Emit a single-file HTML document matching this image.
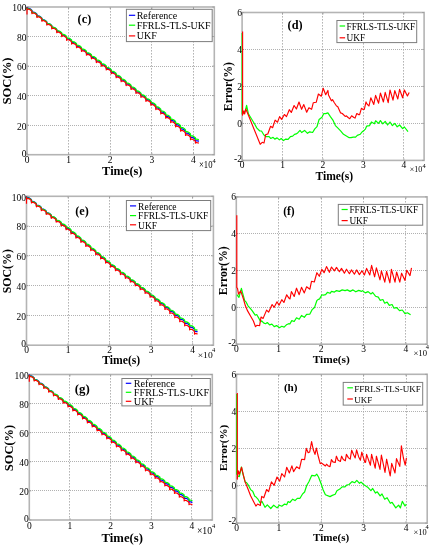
<!DOCTYPE html>
<html><head><meta charset="utf-8"><title>SOC estimation results</title>
<style>html,body{margin:0;padding:0;background:#fff;}svg{display:block;}</style>
</head><body>
<svg width="433" height="550" viewBox="0 0 433 550" font-family='"Liberation Serif", "Times New Roman", serif' fill="#000">
<rect width="433" height="550" fill="#fff"/>
<path d="M68.50 8.00V153.70M110.50 8.00V153.70M151.50 8.00V153.70M193.50 8.00V153.70" stroke="#ababab" stroke-width="0.9" stroke-dasharray="1.6 1.4" fill="none"/>
<path d="M28.00 125.50H213.30M28.00 95.50H213.30M28.00 66.50H213.30M28.00 36.50H213.30" stroke="#a8a8a8" stroke-width="0.9" stroke-dasharray="1 1" fill="none"/>
<rect x="27.00" y="7.00" width="187.30" height="147.70" fill="none" stroke="#b4b4b4" stroke-width="1.6"/>
<path d="M27.00 154.70V152.70M27.00 7.00V9.00M68.62 154.70V152.70M68.62 7.00V9.00M110.24 154.70V152.70M110.24 7.00V9.00M151.87 154.70V152.70M151.87 7.00V9.00M193.49 154.70V152.70M193.49 7.00V9.00M27.00 154.70H29.00M214.30 154.70H212.30M27.00 125.16H29.00M214.30 125.16H212.30M27.00 95.62H29.00M214.30 95.62H212.30M27.00 66.08H29.00M214.30 66.08H212.30M27.00 36.54H29.00M214.30 36.54H212.30M27.00 7.00H29.00M214.30 7.00H212.30" stroke="#999" stroke-width="0.8" fill="none"/>
<path d="M282.50 13.00V159.40M322.50 13.00V159.40M363.50 13.00V159.40M403.50 13.00V159.40" stroke="#ababab" stroke-width="0.9" stroke-dasharray="1.6 1.4" fill="none"/>
<path d="M243.00 123.50H423.10M243.00 86.50H423.10M243.00 49.50H423.10" stroke="#a8a8a8" stroke-width="0.9" stroke-dasharray="1 1" fill="none"/>
<rect x="242.10" y="12.50" width="182.00" height="147.90" fill="none" stroke="#b4b4b4" stroke-width="1.6"/>
<path d="M242.10 160.40V158.40M242.10 12.50V14.50M282.54 160.40V158.40M282.54 12.50V14.50M322.99 160.40V158.40M322.99 12.50V14.50M363.43 160.40V158.40M363.43 12.50V14.50M403.88 160.40V158.40M403.88 12.50V14.50M242.10 160.40H244.10M424.10 160.40H422.10M242.10 123.43H244.10M424.10 123.43H422.10M242.10 86.45H244.10M424.10 86.45H422.10M242.10 49.47H244.10M424.10 49.47H422.10M242.10 12.50H244.10M424.10 12.50H422.10" stroke="#999" stroke-width="0.8" fill="none"/>
<path d="M68.50 197.00V344.20M109.50 197.00V344.20M151.50 197.00V344.20M192.50 197.00V344.20" stroke="#ababab" stroke-width="0.9" stroke-dasharray="1.6 1.4" fill="none"/>
<path d="M27.00 315.50H212.40M27.00 285.50H212.40M27.00 255.50H212.40M27.00 226.50H212.40" stroke="#a8a8a8" stroke-width="0.9" stroke-dasharray="1 1" fill="none"/>
<rect x="26.50" y="196.30" width="186.90" height="148.90" fill="none" stroke="#b4b4b4" stroke-width="1.6"/>
<path d="M26.50 345.20V343.20M26.50 196.30V198.30M68.03 345.20V343.20M68.03 196.30V198.30M109.57 345.20V343.20M109.57 196.30V198.30M151.10 345.20V343.20M151.10 196.30V198.30M192.63 345.20V343.20M192.63 196.30V198.30M26.50 345.20H28.50M213.40 345.20H211.40M26.50 315.42H28.50M213.40 315.42H211.40M26.50 285.64H28.50M213.40 285.64H211.40M26.50 255.86H28.50M213.40 255.86H211.40M26.50 226.08H28.50M213.40 226.08H211.40M26.50 196.30H28.50M213.40 196.30H211.40" stroke="#999" stroke-width="0.8" fill="none"/>
<path d="M278.50 198.00V343.20M321.50 198.00V343.20M363.50 198.00V343.20M405.50 198.00V343.20" stroke="#ababab" stroke-width="0.9" stroke-dasharray="1.6 1.4" fill="none"/>
<path d="M237.00 307.50H426.10M237.00 270.50H426.10M237.00 233.50H426.10" stroke="#a8a8a8" stroke-width="0.9" stroke-dasharray="1 1" fill="none"/>
<rect x="236.30" y="196.90" width="190.80" height="147.30" fill="none" stroke="#b4b4b4" stroke-width="1.6"/>
<path d="M236.30 344.20V342.20M236.30 196.90V198.90M278.70 344.20V342.20M278.70 196.90V198.90M321.10 344.20V342.20M321.10 196.90V198.90M363.50 344.20V342.20M363.50 196.90V198.90M405.90 344.20V342.20M405.90 196.90V198.90M236.30 344.20H238.30M427.10 344.20H425.10M236.30 307.38H238.30M427.10 307.38H425.10M236.30 270.55H238.30M427.10 270.55H425.10M236.30 233.72H238.30M427.10 233.72H425.10M236.30 196.90H238.30M427.10 196.90H425.10" stroke="#999" stroke-width="0.8" fill="none"/>
<path d="M69.50 375.00V519.00M110.50 375.00V519.00M151.50 375.00V519.00M191.50 375.00V519.00" stroke="#ababab" stroke-width="0.9" stroke-dasharray="1.6 1.4" fill="none"/>
<path d="M30.00 490.50H211.30M30.00 461.50H211.30M30.00 432.50H211.30M30.00 403.50H211.30" stroke="#a8a8a8" stroke-width="0.9" stroke-dasharray="1 1" fill="none"/>
<rect x="29.30" y="374.50" width="183.00" height="145.50" fill="none" stroke="#b4b4b4" stroke-width="1.6"/>
<path d="M29.30 520.00V518.00M29.30 374.50V376.50M69.97 520.00V518.00M69.97 374.50V376.50M110.63 520.00V518.00M110.63 374.50V376.50M151.30 520.00V518.00M151.30 374.50V376.50M191.97 520.00V518.00M191.97 374.50V376.50M29.30 520.00H31.30M212.30 520.00H210.30M29.30 490.90H31.30M212.30 490.90H210.30M29.30 461.80H31.30M212.30 461.80H210.30M29.30 432.70H31.30M212.30 432.70H210.30M29.30 403.60H31.30M212.30 403.60H210.30M29.30 374.50H31.30M212.30 374.50H210.30" stroke="#999" stroke-width="0.8" fill="none"/>
<path d="M278.50 375.00V522.10M321.50 375.00V522.10M363.50 375.00V522.10M406.50 375.00V522.10" stroke="#ababab" stroke-width="0.9" stroke-dasharray="1.6 1.4" fill="none"/>
<path d="M237.00 485.50H426.20M237.00 448.50H426.20M237.00 411.50H426.20" stroke="#a8a8a8" stroke-width="0.9" stroke-dasharray="1 1" fill="none"/>
<rect x="236.50" y="374.30" width="190.70" height="148.80" fill="none" stroke="#b4b4b4" stroke-width="1.6"/>
<path d="M236.50 523.10V521.10M236.50 374.30V376.30M278.88 523.10V521.10M278.88 374.30V376.30M321.26 523.10V521.10M321.26 374.30V376.30M363.63 523.10V521.10M363.63 374.30V376.30M406.01 523.10V521.10M406.01 374.30V376.30M236.50 523.10H238.50M427.20 523.10H425.20M236.50 485.90H238.50M427.20 485.90H425.20M236.50 448.70H238.50M427.20 448.70H425.20M236.50 411.50H238.50M427.20 411.50H425.20M236.50 374.30H238.50M427.20 374.30H425.20" stroke="#999" stroke-width="0.8" fill="none"/>
<g fill="none" stroke-linejoin="round">
<polyline points="27.00,7.00 27.00,8.56 27.50,8.44 27.99,8.37 28.49,8.37 28.98,8.43 29.48,8.58 29.97,8.82 30.47,9.13 30.96,9.52 31.46,9.97 31.95,10.47 31.95,12.38 32.45,12.26 32.94,12.19 33.44,12.18 33.93,12.25 34.43,12.40 34.92,12.63 35.42,12.94 35.92,13.33 36.41,13.78 36.91,14.28 36.91,16.19 37.40,16.07 37.90,16.00 38.39,15.99 38.89,16.06 39.38,16.21 39.88,16.44 40.37,16.76 40.87,17.14 41.36,17.60 41.86,18.10 41.86,20.01 42.35,19.88 42.85,19.81 43.35,19.81 43.84,19.88 44.34,20.03 44.83,20.26 45.33,20.57 45.82,20.96 46.32,21.41 46.81,21.91 46.81,23.82 47.31,23.70 47.80,23.63 48.30,23.62 48.79,23.69 49.29,23.84 49.78,24.07 50.28,24.38 50.77,24.77 51.27,25.22 51.77,25.73 51.77,27.63 52.26,27.51 52.76,27.44 53.25,27.44 53.75,27.50 54.24,27.65 54.74,27.89 55.23,28.20 55.73,28.59 56.22,29.04 56.72,29.54 56.72,31.45 57.21,31.33 57.71,31.26 58.20,31.25 58.70,31.32 59.19,31.47 59.69,31.70 60.19,32.01 60.68,32.40 61.18,32.85 61.67,33.36 61.67,35.26 62.17,35.14 62.66,35.07 63.16,35.06 63.65,35.13 64.15,35.28 64.64,35.51 65.14,35.83 65.63,36.21 66.13,36.67 66.62,37.17 66.62,39.08 67.12,38.95 67.61,38.88 68.11,38.87 68.61,38.95 69.10,39.09 69.60,39.31 70.09,39.62 70.59,40.00 71.08,40.43 71.58,40.92 71.58,42.77 72.07,42.65 72.57,42.58 73.06,42.57 73.56,42.64 74.05,42.78 74.55,43.01 75.04,43.31 75.54,43.69 76.04,44.12 76.53,44.61 76.53,46.46 77.03,46.34 77.52,46.27 78.02,46.27 78.51,46.33 79.01,46.48 79.50,46.70 80.00,47.00 80.49,47.38 80.99,47.82 81.48,48.30 81.48,50.15 81.98,50.03 82.47,49.96 82.97,49.96 83.46,50.02 83.96,50.17 84.46,50.39 84.95,50.69 85.45,51.07 85.94,51.51 86.44,51.99 86.44,53.84 86.93,53.72 87.43,53.65 87.92,53.65 88.42,53.71 88.91,53.86 89.41,54.08 89.90,54.39 90.40,54.76 90.89,55.20 91.39,55.69 91.39,57.53 91.88,57.41 92.38,57.34 92.88,57.34 93.37,57.40 93.87,57.55 94.36,57.77 94.86,58.08 95.35,58.45 95.85,58.89 96.34,59.38 96.34,61.22 96.84,61.10 97.33,61.04 97.83,61.03 98.32,61.10 98.82,61.24 99.31,61.46 99.81,61.77 100.31,62.14 100.80,62.58 101.30,63.07 101.30,64.91 101.79,64.79 102.29,64.73 102.78,64.72 103.28,64.79 103.77,64.93 104.27,65.16 104.76,65.46 105.26,65.83 105.75,66.27 106.25,66.76 106.25,68.60 106.74,68.49 107.24,68.42 107.73,68.41 108.23,68.48 108.73,68.62 109.22,68.84 109.72,69.14 110.21,69.51 110.71,69.97 111.20,70.48 111.20,72.41 111.70,72.30 112.19,72.23 112.69,72.23 113.18,72.30 113.68,72.45 114.17,72.69 114.67,73.01 115.16,73.41 115.66,73.87 116.15,74.39 116.15,76.35 116.65,76.23 117.15,76.15 117.64,76.15 118.14,76.22 118.63,76.37 119.13,76.61 119.62,76.93 120.12,77.33 120.61,77.79 121.11,78.31 121.11,80.27 121.60,80.15 122.10,80.07 122.59,80.07 123.09,80.14 123.58,80.29 124.08,80.53 124.57,80.85 125.07,81.25 125.57,81.71 126.06,82.23 126.06,84.19 126.56,84.07 127.05,83.99 127.55,83.99 128.04,84.06 128.54,84.21 129.03,84.45 129.53,84.77 130.02,85.17 130.52,85.63 131.01,86.15 131.01,88.11 131.51,87.98 132.00,87.91 132.50,87.91 133.00,87.98 133.49,88.13 133.99,88.37 134.48,88.69 134.98,89.09 135.47,89.55 135.97,90.07 135.97,92.03 136.46,91.90 136.96,91.83 137.45,91.83 137.95,91.90 138.44,92.05 138.94,92.29 139.43,92.61 139.93,93.01 140.42,93.47 140.92,93.99 140.92,95.95 141.42,95.82 141.91,95.75 142.41,95.75 142.90,95.82 143.40,95.97 143.89,96.21 144.39,96.53 144.88,96.93 145.38,97.39 145.87,97.91 145.87,99.87 146.37,99.74 146.86,99.67 147.36,99.66 147.85,99.74 148.35,99.89 148.84,100.13 149.34,100.45 149.84,100.85 150.33,101.31 150.83,101.82 150.83,103.82 151.32,103.69 151.82,103.61 152.31,103.62 152.81,103.71 153.30,103.87 153.80,104.13 154.29,104.47 154.79,104.90 155.28,105.40 155.78,105.96 155.78,108.07 156.27,107.93 156.77,107.85 157.27,107.85 157.76,107.92 158.26,108.09 158.75,108.34 159.25,108.69 159.74,109.12 160.24,109.62 160.73,110.18 160.73,112.28 161.23,112.15 161.72,112.07 162.22,112.07 162.71,112.14 163.21,112.31 163.70,112.56 164.20,112.91 164.69,113.34 165.19,113.84 165.69,114.39 165.69,116.50 166.18,116.37 166.68,116.29 167.17,116.28 167.67,116.36 168.16,116.52 168.66,116.78 169.15,117.13 169.65,117.56 170.14,118.06 170.64,118.61 170.64,120.72 171.13,120.59 171.63,120.51 172.12,120.50 172.62,120.58 173.11,120.74 173.61,121.00 174.11,121.35 174.60,121.77 175.10,122.27 175.59,122.83 175.59,124.94 176.09,124.80 176.58,124.73 177.08,124.72 177.57,124.80 178.07,124.96 178.56,125.22 179.06,125.56 179.55,125.99 180.05,126.49 180.54,127.05 180.54,129.16 181.04,129.02 181.53,128.95 182.03,128.94 182.53,129.01 183.02,129.18 183.52,129.44 184.01,129.78 184.51,130.21 185.00,130.71 185.50,131.27 185.50,133.38 185.99,133.24 186.49,133.16 186.98,133.16 187.48,133.23 187.97,133.40 188.47,133.65 188.96,134.00 189.46,134.43 189.96,134.93 190.45,135.49 190.45,137.59 190.95,137.46 191.44,137.38 191.94,137.37 192.43,137.46 192.93,137.65 193.42,137.94 193.92,138.22 194.41,138.56 194.91,138.95 195.40,139.38 195.40,140.97 195.90,140.85 196.39,140.79 196.89,140.79 197.38,140.85 197.88,140.97 198.38,141.16 198.87,141.42" stroke="#0000ff" stroke-width="1.3"/>
<polyline points="27.00,7.44 27.00,9.01 27.50,8.88 27.99,8.80 28.49,8.79 28.98,8.85 29.48,8.99 29.97,9.22 30.47,9.52 30.96,9.90 31.46,10.35 31.95,10.84 31.95,12.75 32.45,12.62 32.94,12.54 33.44,12.53 33.93,12.59 34.43,12.73 34.92,12.96 35.42,13.27 35.92,13.65 36.41,14.09 36.91,14.59 36.91,16.49 37.40,16.36 37.90,16.29 38.39,16.27 38.89,16.34 39.38,16.48 39.88,16.70 40.37,17.01 40.87,17.39 41.36,17.83 41.86,18.33 41.86,20.24 42.35,20.11 42.85,20.03 43.35,20.02 43.84,20.08 44.34,20.22 44.83,20.45 45.33,20.75 45.82,21.13 46.32,21.58 46.81,22.07 46.81,23.98 47.31,23.85 47.80,23.78 48.30,23.74 48.79,23.79 49.29,23.91 49.78,24.12 50.28,24.41 50.77,24.77 51.27,25.20 51.77,25.68 51.77,27.59 52.26,27.44 52.76,27.34 53.25,27.31 53.75,27.36 54.24,27.48 54.74,27.69 55.23,27.98 55.73,28.34 56.22,28.77 56.72,29.25 56.72,31.15 57.21,31.01 57.71,30.91 58.20,30.88 58.70,30.92 59.19,31.05 59.69,31.26 60.19,31.55 60.68,31.91 61.18,32.34 61.67,32.81 61.67,34.72 62.17,34.57 62.66,34.48 63.16,34.45 63.65,34.49 64.15,34.62 64.64,34.82 65.14,35.11 65.63,35.48 66.13,35.90 66.62,36.38 66.62,38.29 67.12,38.14 67.61,38.04 68.11,38.01 68.61,38.06 69.10,38.20 69.60,38.43 70.09,38.73 70.59,39.11 71.08,39.55 71.58,40.03 71.58,41.88 72.07,41.76 72.57,41.69 73.06,41.69 73.56,41.75 74.05,41.90 74.55,42.12 75.04,42.43 75.54,42.80 76.04,43.24 76.53,43.73 76.53,45.57 77.03,45.45 77.52,45.38 78.02,45.38 78.51,45.45 79.01,45.59 79.50,45.81 80.00,46.12 80.49,46.49 80.99,46.93 81.48,47.42 81.48,49.26 81.98,49.14 82.47,49.08 82.97,49.07 83.46,49.14 83.96,49.28 84.46,49.51 84.95,49.81 85.45,50.18 85.94,50.62 86.44,51.11 86.44,52.95 86.93,52.83 87.43,52.77 87.92,52.76 88.42,52.83 88.91,52.97 89.41,53.20 89.90,53.50 90.40,53.87 90.89,54.31 91.39,54.80 91.39,56.64 91.88,56.53 92.38,56.46 92.88,56.45 93.37,56.52 93.87,56.66 94.36,56.89 94.86,57.19 95.35,57.57 95.85,58.00 96.34,58.49 96.34,60.34 96.84,60.22 97.33,60.15 97.83,60.14 98.32,60.21 98.82,60.35 99.31,60.58 99.81,60.88 100.31,61.26 100.80,61.69 101.30,62.18 101.30,64.03 101.79,63.91 102.29,63.84 102.78,63.83 103.28,63.90 103.77,64.04 104.27,64.27 104.76,64.57 105.26,64.95 105.75,65.38 106.25,65.87 106.25,67.72 106.74,67.60 107.24,67.53 107.73,67.53 108.23,67.59 108.73,67.73 109.22,67.95 109.72,68.25 110.21,68.62 110.71,69.08 111.20,69.59 111.20,71.52 111.70,71.41 112.19,71.35 112.69,71.34 113.18,71.41 113.68,71.57 114.17,71.80 114.67,72.13 115.16,72.52 115.66,72.99 116.15,73.51 116.15,75.47 116.65,75.34 117.15,75.27 117.64,75.26 118.14,75.33 118.63,75.49 119.13,75.72 119.62,76.05 120.12,76.44 120.61,76.91 121.11,77.43 121.11,79.39 121.60,79.26 122.10,79.19 122.59,79.18 123.09,79.25 123.58,79.40 124.08,79.64 124.57,79.97 125.07,80.36 125.57,80.83 126.06,81.35 126.06,83.30 126.56,83.18 127.05,83.11 127.55,83.10 128.04,83.17 128.54,83.32 129.03,83.56 129.53,83.88 130.02,84.28 130.52,84.75 131.01,85.26 131.01,87.22 131.51,87.10 132.00,87.03 132.50,87.02 133.00,87.09 133.49,87.24 133.99,87.48 134.48,87.80 134.98,88.20 135.47,88.67 135.97,89.18 135.97,91.14 136.46,91.02 136.96,90.95 137.45,90.94 137.95,91.01 138.44,91.16 138.94,91.40 139.43,91.72 139.93,92.12 140.42,92.59 140.92,93.10 140.92,95.06 141.42,94.94 141.91,94.87 142.41,94.86 142.90,94.93 143.40,95.08 143.89,95.32 144.39,95.64 144.88,96.04 145.38,96.51 145.87,97.02 145.87,98.98 146.37,98.86 146.86,98.78 147.36,98.78 147.85,98.85 148.35,99.00 148.84,99.24 149.34,99.56 149.84,99.96 150.33,100.42 150.83,100.94 150.83,102.93 151.32,102.81 151.82,102.73 152.31,102.73 152.81,102.81 153.30,102.96 153.80,103.21 154.29,103.55 154.79,103.97 155.28,104.46 155.78,105.01 155.78,107.12 156.27,106.98 156.77,106.89 157.27,106.88 157.76,106.94 158.26,107.10 158.75,107.35 159.25,107.69 159.74,108.11 160.24,108.60 160.73,109.15 160.73,111.26 161.23,111.12 161.72,111.03 162.22,111.02 162.71,111.09 163.21,111.24 163.70,111.49 164.20,111.83 164.69,112.25 165.19,112.74 165.69,113.29 165.69,115.40 166.18,115.26 166.68,115.17 167.17,115.16 167.67,115.23 168.16,115.38 168.66,115.63 169.15,115.97 169.65,116.39 170.14,116.88 170.64,117.43 170.64,119.54 171.13,119.40 171.63,119.31 172.12,119.30 172.62,119.37 173.11,119.53 173.61,119.77 174.11,120.11 174.60,120.53 175.10,121.03 175.59,121.58 175.59,123.68 176.09,123.54 176.58,123.46 177.08,123.44 177.57,123.51 178.07,123.67 178.56,123.92 179.06,124.25 179.55,124.68 180.05,125.17 180.54,125.72 180.54,127.83 181.04,127.68 181.53,127.60 182.03,127.58 182.53,127.65 183.02,127.81 183.52,128.06 184.01,128.40 184.51,128.82 185.00,129.31 185.50,129.86 185.50,131.97 185.99,131.82 186.49,131.74 186.98,131.72 187.48,131.79 187.97,131.95 188.47,132.20 188.96,132.54 189.46,132.96 189.96,133.45 190.45,134.00 190.45,136.11 190.95,135.97 191.44,135.88 191.94,135.86 192.43,135.94 192.93,136.12 193.42,136.40 193.92,136.68 194.41,137.01 194.91,137.39 195.40,137.82 195.40,139.41 195.90,139.28 196.39,139.22 196.89,139.20 197.38,139.25 197.88,139.37 198.38,139.55 198.87,139.80" stroke="#00ff00" stroke-width="1.25"/>
<polyline points="27.00,14.39 27.00,7.89 27.00,9.83 27.50,9.33 27.99,9.26 28.49,9.25 28.98,9.32 29.48,9.47 29.97,9.70 30.47,10.01 30.96,10.40 31.46,10.85 31.95,11.36 31.95,13.65 32.45,13.14 32.94,13.07 33.44,13.07 33.93,13.13 34.43,13.28 34.92,13.52 35.42,13.83 35.92,14.22 36.41,14.67 36.91,15.17 36.91,17.46 37.40,16.96 37.90,16.89 38.39,16.88 38.89,16.95 39.38,17.10 39.88,17.33 40.37,17.64 40.87,18.03 41.36,18.48 41.86,18.99 41.86,21.27 42.35,20.77 42.85,20.70 43.35,20.69 43.84,20.76 44.34,20.91 44.83,21.14 45.33,21.46 45.82,21.84 46.32,22.30 46.81,22.80 46.81,25.09 47.31,24.58 47.80,24.51 48.30,24.51 48.79,24.58 49.29,24.73 49.78,24.96 50.28,25.27 50.77,25.66 51.27,26.11 51.77,26.61 51.77,28.90 52.26,28.40 52.76,28.33 53.25,28.32 53.75,28.39 54.24,28.54 54.74,28.77 55.23,29.08 55.73,29.47 56.22,29.92 56.72,30.43 56.72,32.72 57.21,32.21 57.71,32.14 58.20,32.14 58.70,32.20 59.19,32.35 59.69,32.59 60.19,32.90 60.68,33.29 61.18,33.74 61.67,34.24 61.67,36.53 62.17,36.03 62.66,35.96 63.16,35.95 63.65,36.02 64.15,36.17 64.64,36.40 65.14,36.71 65.63,37.10 66.13,37.55 66.62,38.06 66.62,40.34 67.12,39.84 67.61,39.76 68.11,39.76 68.61,39.83 69.10,39.98 69.60,40.20 70.09,40.51 70.59,40.89 71.08,41.32 71.58,41.81 71.58,44.03 72.07,43.54 72.57,43.47 73.06,43.47 73.56,43.54 74.05,43.68 74.55,43.91 75.04,44.21 75.54,44.59 76.04,45.02 76.53,45.51 76.53,47.73 77.03,47.24 77.52,47.17 78.02,47.17 78.51,47.24 79.01,47.38 79.50,47.61 80.00,47.91 80.49,48.29 80.99,48.72 81.48,49.21 81.48,51.43 81.98,50.94 82.47,50.87 82.97,50.87 83.46,50.94 83.96,51.08 84.46,51.31 84.95,51.61 85.45,51.99 85.94,52.42 86.44,52.91 86.44,55.13 86.93,54.64 87.43,54.57 87.92,54.57 88.42,54.63 88.91,54.78 89.41,55.01 89.90,55.31 90.40,55.69 90.89,56.12 91.39,56.61 91.39,58.83 91.88,58.34 92.38,58.27 92.88,58.27 93.37,58.33 93.87,58.48 94.36,58.71 94.86,59.01 95.35,59.38 95.85,59.82 96.34,60.31 96.34,62.53 96.84,62.04 97.33,61.97 97.83,61.97 98.32,62.03 98.82,62.18 99.31,62.41 99.81,62.71 100.31,63.08 100.80,63.52 101.30,64.01 101.30,66.23 101.79,65.74 102.29,65.67 102.78,65.67 103.28,65.73 103.77,65.88 104.27,66.11 104.76,66.41 105.26,66.78 105.75,67.22 106.25,67.71 106.25,69.93 106.74,69.44 107.24,69.37 107.73,69.37 108.23,69.43 108.73,69.58 109.22,69.80 109.72,70.10 110.21,70.47 110.71,70.93 111.20,71.44 111.20,73.75 111.70,73.26 112.19,73.20 112.69,73.19 113.18,73.26 113.68,73.42 114.17,73.66 114.67,73.98 115.16,74.38 115.66,74.84 116.15,75.36 116.15,77.71 116.65,77.20 117.15,77.13 117.64,77.12 118.14,77.19 118.63,77.35 119.13,77.59 119.62,77.91 120.12,78.31 120.61,78.77 121.11,79.29 121.11,81.64 121.60,81.13 122.10,81.05 122.59,81.05 123.09,81.12 123.58,81.27 124.08,81.51 124.57,81.84 125.07,82.24 125.57,82.70 126.06,83.22 126.06,85.57 126.56,85.05 127.05,84.98 127.55,84.98 128.04,85.05 128.54,85.20 129.03,85.44 129.53,85.77 130.02,86.16 130.52,86.63 131.01,87.15 131.01,89.50 131.51,88.98 132.00,88.91 132.50,88.91 133.00,88.98 133.49,89.13 133.99,89.37 134.48,89.69 134.98,90.09 135.47,90.56 135.97,91.08 135.97,93.43 136.46,92.91 136.96,92.84 137.45,92.83 137.95,92.91 138.44,93.06 138.94,93.30 139.43,93.62 139.93,94.02 140.42,94.49 140.92,95.00 140.92,97.36 141.42,96.84 141.91,96.77 142.41,96.76 142.90,96.83 143.40,96.99 143.89,97.23 144.39,97.55 144.88,97.95 145.38,98.41 145.87,98.93 145.87,101.28 146.37,100.77 146.86,100.70 147.36,100.69 147.85,100.76 148.35,100.92 148.84,101.16 149.34,101.48 149.84,101.88 150.33,102.34 150.83,102.85 150.83,105.25 151.32,104.73 151.82,104.65 152.31,104.66 152.81,104.76 153.30,104.93 153.80,105.20 154.29,105.55 154.79,105.99 155.28,106.50 155.78,107.06 155.78,109.60 156.27,109.05 156.77,108.98 157.27,108.98 157.76,109.07 158.26,109.24 158.75,109.51 159.25,109.86 159.74,110.30 160.24,110.81 160.73,111.38 160.73,113.91 161.23,113.36 161.72,113.29 162.22,113.29 162.71,113.38 163.21,113.55 163.70,113.82 164.20,114.17 164.69,114.61 165.19,115.12 165.69,115.69 165.69,118.22 166.18,117.67 166.68,117.60 167.17,117.60 167.67,117.69 168.16,117.86 168.66,118.13 169.15,118.48 169.65,118.92 170.14,119.43 170.64,120.00 170.64,122.53 171.13,121.98 171.63,121.91 172.12,121.91 172.62,122.00 173.11,122.17 173.61,122.44 174.11,122.79 174.60,123.23 175.10,123.74 175.59,124.31 175.59,126.84 176.09,126.29 176.58,126.22 177.08,126.22 177.57,126.31 178.07,126.48 178.56,126.75 179.06,127.11 179.55,127.54 180.05,128.05 180.54,128.62 180.54,131.15 181.04,130.60 181.53,130.53 182.03,130.54 182.53,130.62 183.02,130.80 183.52,131.06 184.01,131.42 184.51,131.85 185.00,132.36 185.50,132.93 185.50,135.46 185.99,134.91 186.49,134.84 186.98,134.85 187.48,134.93 187.97,135.11 188.47,135.37 188.96,135.73 189.46,136.16 189.96,136.67 190.45,137.24 190.45,139.77 190.95,139.22 191.44,139.15 191.94,139.15 192.43,139.25 192.93,139.45 193.42,139.75 193.92,140.04 194.41,140.38 194.91,140.79 195.40,141.23 195.40,143.14 195.90,142.71 196.39,142.66 196.89,142.66 197.38,142.73 197.88,142.86 198.38,143.06 198.87,143.33" stroke="#ff0000" stroke-width="1.2"/>
</g>
<g fill="none" stroke-linejoin="round">
<polyline points="26.50,196.30 26.50,197.87 26.99,197.75 27.49,197.68 27.98,197.67 28.48,197.74 28.97,197.89 29.47,198.12 29.96,198.44 30.45,198.82 30.95,199.28 31.44,199.78 31.44,201.70 31.94,201.57 32.43,201.50 32.93,201.50 33.42,201.57 33.91,201.72 34.41,201.95 34.90,202.26 35.40,202.65 35.89,203.10 36.38,203.61 36.38,205.52 36.88,205.40 37.37,205.33 37.87,205.32 38.36,205.39 38.86,205.54 39.35,205.78 39.84,206.09 40.34,206.48 40.83,206.93 41.33,207.44 41.33,209.35 41.82,209.23 42.32,209.16 42.81,209.15 43.30,209.22 43.80,209.37 44.29,209.60 44.79,209.92 45.28,210.31 45.78,210.76 46.27,211.26 46.27,213.18 46.76,213.06 47.26,212.99 47.75,212.98 48.25,213.05 48.74,213.20 49.24,213.43 49.73,213.74 50.22,214.13 50.72,214.59 51.21,215.09 51.21,217.01 51.71,216.88 52.20,216.81 52.70,216.81 53.19,216.88 53.68,217.02 54.18,217.26 54.67,217.57 55.17,217.96 55.66,218.41 56.15,218.92 56.15,220.83 56.65,220.71 57.14,220.64 57.64,220.63 58.13,220.70 58.63,220.85 59.12,221.09 59.61,221.40 60.11,221.79 60.60,222.24 61.10,222.75 61.10,224.66 61.59,224.54 62.09,224.47 62.58,224.46 63.07,224.53 63.57,224.68 64.06,224.91 64.56,225.23 65.05,225.62 65.55,226.07 66.04,226.57 66.04,228.49 66.53,228.38 67.03,228.31 67.52,228.30 68.02,228.35 68.51,228.52 69.01,228.77 69.50,229.11 69.99,229.53 70.49,230.02 70.98,230.56 70.98,232.64 71.48,232.50 71.97,232.43 72.46,232.42 72.96,232.49 73.45,232.66 73.95,232.91 74.44,233.25 74.94,233.67 75.43,234.16 75.92,234.71 75.92,236.78 76.42,236.65 76.91,236.57 77.41,236.57 77.90,236.64 78.40,236.80 78.89,237.06 79.38,237.40 79.88,237.82 80.37,238.31 80.87,238.86 80.87,240.93 81.36,240.80 81.86,240.72 82.35,240.71 82.84,240.79 83.34,240.95 83.83,241.20 84.33,241.54 84.82,241.96 85.32,242.45 85.81,243.00 85.81,245.08 86.30,244.94 86.80,244.87 87.29,244.86 87.79,244.93 88.28,245.10 88.78,245.35 89.27,245.69 89.76,246.11 90.26,246.60 90.75,247.15 90.75,249.22 91.25,249.09 91.74,249.01 92.23,249.01 92.73,249.08 93.22,249.24 93.72,249.49 94.21,249.83 94.71,250.26 95.20,250.75 95.69,251.29 95.69,253.37 96.19,253.23 96.68,253.16 97.18,253.15 97.67,253.23 98.17,253.39 98.66,253.64 99.15,253.98 99.65,254.40 100.14,254.89 100.64,255.44 100.64,257.51 101.13,257.38 101.63,257.30 102.12,257.30 102.61,257.37 103.11,257.53 103.60,257.79 104.10,258.13 104.59,258.55 105.09,259.04 105.58,259.59 105.58,261.66 106.07,261.53 106.57,261.45 107.06,261.44 107.56,261.52 108.05,261.69 108.54,261.95 109.04,262.29 109.53,262.72 110.03,263.18 110.52,263.68 110.52,265.61 111.02,265.47 111.51,265.38 112.00,265.38 112.50,265.44 112.99,265.59 113.49,265.82 113.98,266.13 114.48,266.51 114.97,266.95 115.46,267.45 115.46,269.33 115.96,269.21 116.45,269.14 116.95,269.13 117.44,269.20 117.94,269.35 118.43,269.58 118.92,269.88 119.42,270.26 119.91,270.71 120.41,271.21 120.41,273.08 120.90,272.96 121.40,272.89 121.89,272.89 122.38,272.96 122.88,273.10 123.37,273.33 123.87,273.64 124.36,274.02 124.86,274.47 125.35,274.96 125.35,276.84 125.84,276.72 126.34,276.65 126.83,276.64 127.33,276.71 127.82,276.86 128.31,277.09 128.81,277.40 129.30,277.78 129.80,278.22 130.29,278.72 130.29,280.60 130.79,280.48 131.28,280.41 131.77,280.40 132.27,280.47 132.76,280.62 133.26,280.84 133.75,281.15 134.25,281.53 134.74,281.98 135.23,282.48 135.23,284.35 135.73,284.23 136.22,284.16 136.72,284.16 137.21,284.23 137.71,284.37 138.20,284.60 138.69,284.91 139.19,285.29 139.68,285.74 140.18,286.23 140.18,288.11 140.67,287.99 141.17,287.92 141.66,287.91 142.15,287.98 142.65,288.13 143.14,288.36 143.64,288.67 144.13,289.05 144.62,289.49 145.12,289.99 145.12,291.87 145.61,291.75 146.11,291.68 146.60,291.67 147.10,291.74 147.59,291.89 148.08,292.11 148.58,292.42 149.07,292.80 149.57,293.24 150.06,293.74 150.06,295.64 150.56,295.52 151.05,295.45 151.54,295.45 152.04,295.53 152.53,295.69 153.03,295.93 153.52,296.25 154.02,296.66 154.51,297.13 155.00,297.65 155.00,299.63 155.50,299.51 155.99,299.43 156.49,299.43 156.98,299.50 157.48,299.65 157.97,299.90 158.46,300.22 158.96,300.62 159.45,301.09 159.95,301.62 159.95,303.60 160.44,303.48 160.94,303.40 161.43,303.40 161.92,303.47 162.42,303.62 162.91,303.86 163.41,304.19 163.90,304.59 164.39,305.06 164.89,305.59 164.89,307.57 165.38,307.45 165.88,307.37 166.37,307.37 166.87,307.44 167.36,307.59 167.85,307.83 168.35,308.16 168.84,308.56 169.34,309.03 169.83,309.56 169.83,311.54 170.33,311.41 170.82,311.34 171.31,311.33 171.81,311.41 172.30,311.56 172.80,311.80 173.29,312.13 173.79,312.53 174.28,313.00 174.77,313.53 174.77,315.51 175.27,315.38 175.76,315.31 176.26,315.30 176.75,315.38 177.25,315.53 177.74,315.77 178.23,316.10 178.73,316.50 179.22,316.97 179.72,317.50 179.72,319.48 180.21,319.35 180.70,319.28 181.20,319.27 181.69,319.34 182.19,319.50 182.68,319.74 183.18,320.07 183.67,320.47 184.16,320.94 184.66,321.46 184.66,323.45 185.15,323.32 185.65,323.25 186.14,323.24 186.64,323.31 187.13,323.47 187.62,323.71 188.12,324.04 188.61,324.44 189.11,324.91 189.60,325.43 189.60,327.42 190.10,327.29 190.59,327.22 191.08,327.21 191.58,327.28 192.07,327.43 192.57,327.66 193.06,328.01 193.56,328.43 194.05,328.94 194.54,329.50 194.54,331.63 195.04,331.50 195.53,331.42 196.03,331.41 196.52,331.49 197.02,331.66 197.51,331.92" stroke="#0000ff" stroke-width="1.3"/>
<polyline points="26.50,196.75 26.50,198.32 26.99,198.19 27.49,198.11 27.98,198.10 28.48,198.16 28.97,198.30 29.47,198.53 29.96,198.83 30.45,199.21 30.95,199.66 31.44,200.16 31.44,202.07 31.94,201.94 32.43,201.86 32.93,201.85 33.42,201.91 33.91,202.06 34.41,202.28 34.90,202.59 35.40,202.97 35.89,203.42 36.38,203.92 36.38,205.83 36.88,205.70 37.37,205.62 37.87,205.61 38.36,205.67 38.86,205.81 39.35,206.04 39.84,206.35 40.34,206.73 40.83,207.17 41.33,207.67 41.33,209.59 41.82,209.46 42.32,209.38 42.81,209.36 43.30,209.43 43.80,209.57 44.29,209.79 44.79,210.10 45.28,210.48 45.78,210.93 46.27,211.43 46.27,213.34 46.76,213.21 47.26,213.13 47.75,213.11 48.25,213.15 48.74,213.28 49.24,213.49 49.73,213.79 50.22,214.15 50.72,214.59 51.21,215.07 51.21,216.98 51.71,216.84 52.20,216.75 52.70,216.72 53.19,216.77 53.68,216.90 54.18,217.11 54.67,217.40 55.17,217.77 55.66,218.20 56.15,218.69 56.15,220.60 56.65,220.46 57.14,220.36 57.64,220.34 58.13,220.38 58.63,220.51 59.12,220.72 59.61,221.02 60.11,221.38 60.60,221.82 61.10,222.30 61.10,224.21 61.59,224.07 62.09,223.98 62.58,223.95 63.07,224.00 63.57,224.13 64.06,224.34 64.56,224.63 65.05,225.00 65.55,225.43 66.04,225.91 66.04,227.83 66.53,227.70 67.03,227.61 67.52,227.57 68.02,227.61 68.51,227.78 69.01,228.03 69.50,228.37 69.99,228.79 70.49,229.28 70.98,229.83 70.98,231.90 71.48,231.77 71.97,231.70 72.46,231.69 72.96,231.77 73.45,231.93 73.95,232.19 74.44,232.53 74.94,232.95 75.43,233.44 75.92,233.99 75.92,236.07 76.42,235.94 76.91,235.86 77.41,235.86 77.90,235.93 78.40,236.10 78.89,236.35 79.38,236.69 79.88,237.11 80.37,237.61 80.87,238.16 80.87,240.23 81.36,240.10 81.86,240.02 82.35,240.02 82.84,240.10 83.34,240.26 83.83,240.51 84.33,240.86 84.82,241.28 85.32,241.77 85.81,242.32 85.81,244.39 86.30,244.26 86.80,244.19 87.29,244.18 87.79,244.26 88.28,244.42 88.78,244.68 89.27,245.02 89.76,245.44 90.26,245.94 90.75,246.49 90.75,248.56 91.25,248.43 91.74,248.35 92.23,248.35 92.73,248.42 93.22,248.59 93.72,248.84 94.21,249.18 94.71,249.61 95.20,250.10 95.69,250.65 95.69,252.72 96.19,252.59 96.68,252.52 97.18,252.51 97.67,252.59 98.17,252.75 98.66,253.01 99.15,253.35 99.65,253.77 100.14,254.26 100.64,254.81 100.64,256.89 101.13,256.75 101.63,256.68 102.12,256.68 102.61,256.75 103.11,256.92 103.60,257.17 104.10,257.51 104.59,257.93 105.09,258.43 105.58,258.98 105.58,261.05 106.07,260.92 106.57,260.84 107.06,260.84 107.56,260.92 108.05,261.08 108.54,261.35 109.04,261.70 109.53,262.13 110.03,262.58 110.52,263.09 110.52,265.02 111.02,264.88 111.51,264.79 112.00,264.79 112.50,264.86 112.99,265.01 113.49,265.24 113.98,265.55 114.48,265.93 114.97,266.38 115.46,266.87 115.46,268.75 115.96,268.63 116.45,268.57 116.95,268.56 117.44,268.63 117.94,268.78 118.43,269.01 118.92,269.32 119.42,269.70 119.91,270.15 120.41,270.65 120.41,272.53 120.90,272.41 121.40,272.34 121.89,272.34 122.38,272.41 122.88,272.55 123.37,272.79 123.87,273.10 124.36,273.48 124.86,273.93 125.35,274.42 125.35,276.30 125.84,276.18 126.34,276.12 126.83,276.11 127.33,276.18 127.82,276.33 128.31,276.56 128.81,276.87 129.30,277.25 129.80,277.70 130.29,278.20 130.29,280.08 130.79,279.96 131.28,279.89 131.77,279.89 132.27,279.95 132.76,280.10 133.26,280.33 133.75,280.64 134.25,281.03 134.74,281.47 135.23,281.97 135.23,283.85 135.73,283.73 136.22,283.66 136.72,283.66 137.21,283.73 137.71,283.88 138.20,284.11 138.69,284.42 139.19,284.80 139.68,285.25 140.18,285.75 140.18,287.62 140.67,287.51 141.17,287.44 141.66,287.43 142.15,287.50 142.65,287.65 143.14,287.88 143.64,288.19 144.13,288.58 144.62,289.02 145.12,289.52 145.12,291.40 145.61,291.28 146.11,291.21 146.60,291.21 147.10,291.28 147.59,291.43 148.08,291.66 148.58,291.97 149.07,292.35 149.57,292.79 150.06,293.29 150.06,295.19 150.56,295.08 151.05,295.00 151.54,295.00 152.04,295.06 152.53,295.20 153.03,295.43 153.52,295.74 154.02,296.13 154.51,296.59 155.00,297.10 155.00,299.09 155.50,298.95 155.99,298.86 156.49,298.84 156.98,298.90 157.48,299.04 157.97,299.27 158.46,299.59 158.96,299.98 159.45,300.43 159.95,300.95 159.95,302.93 160.44,302.79 160.94,302.70 161.43,302.69 161.92,302.74 162.42,302.89 162.91,303.12 163.41,303.43 163.90,303.82 164.39,304.28 164.89,304.79 164.89,306.77 165.38,306.63 165.88,306.55 166.37,306.53 166.87,306.59 167.36,306.73 167.85,306.96 168.35,307.27 168.84,307.66 169.34,308.12 169.83,308.63 169.83,310.62 170.33,310.48 170.82,310.39 171.31,310.37 171.81,310.43 172.30,310.57 172.80,310.80 173.29,311.11 173.79,311.50 174.28,311.96 174.77,312.47 174.77,314.46 175.27,314.32 175.76,314.23 176.26,314.21 176.75,314.27 177.25,314.41 177.74,314.64 178.23,314.96 178.73,315.35 179.22,315.80 179.72,316.32 179.72,318.30 180.21,318.16 180.70,318.07 181.20,318.06 181.69,318.11 182.19,318.26 182.68,318.49 183.18,318.80 183.67,319.19 184.16,319.65 184.66,320.16 184.66,322.14 185.15,322.00 185.65,321.92 186.14,321.90 186.64,321.96 187.13,322.10 187.62,322.33 188.12,322.64 188.61,323.03 189.11,323.49 189.60,324.00 189.60,325.99 190.10,325.85 190.59,325.76 191.08,325.74 191.58,325.80 192.07,325.93 192.57,326.15 193.06,326.48 193.56,326.90 194.05,327.39 194.54,327.94 194.54,330.07 195.04,329.93 195.53,329.84 196.03,329.82 196.52,329.88 197.02,330.04 197.51,330.28" stroke="#00ff00" stroke-width="1.25"/>
<polyline points="26.50,203.75 26.50,197.19 26.50,199.15 26.99,198.64 27.49,198.57 27.98,198.56 28.48,198.63 28.97,198.78 29.47,199.01 29.96,199.33 30.45,199.72 30.95,200.17 31.44,200.68 31.44,202.97 31.94,202.47 32.43,202.40 32.93,202.39 33.42,202.46 33.91,202.61 34.41,202.84 34.90,203.16 35.40,203.54 35.89,204.00 36.38,204.50 36.38,206.80 36.88,206.29 37.37,206.22 37.87,206.22 38.36,206.29 38.86,206.44 39.35,206.67 39.84,206.98 40.34,207.37 40.83,207.83 41.33,208.33 41.33,210.63 41.82,210.12 42.32,210.05 42.81,210.05 43.30,210.11 43.80,210.26 44.29,210.50 44.79,210.81 45.28,211.20 45.78,211.65 46.27,212.16 46.27,214.45 46.76,213.95 47.26,213.88 47.75,213.87 48.25,213.94 48.74,214.09 49.24,214.32 49.73,214.64 50.22,215.03 50.72,215.48 51.21,215.99 51.21,218.28 51.71,217.78 52.20,217.71 52.70,217.70 53.19,217.77 53.68,217.92 54.18,218.15 54.67,218.47 55.17,218.85 55.66,219.31 56.15,219.81 56.15,222.11 56.65,221.60 57.14,221.53 57.64,221.53 58.13,221.60 58.63,221.75 59.12,221.98 59.61,222.29 60.11,222.68 60.60,223.13 61.10,223.64 61.10,225.94 61.59,225.43 62.09,225.36 62.58,225.35 63.07,225.42 63.57,225.57 64.06,225.81 64.56,226.12 65.05,226.51 65.55,226.96 66.04,227.47 66.04,229.77 66.53,229.27 67.03,229.20 67.52,229.19 68.02,229.25 68.51,229.42 69.01,229.67 69.50,230.01 69.99,230.43 70.49,230.92 70.98,231.47 70.98,233.95 71.48,233.41 71.97,233.33 72.46,233.33 72.96,233.41 73.45,233.57 73.95,233.82 74.44,234.17 74.94,234.59 75.43,235.08 75.92,235.63 75.92,238.12 76.42,237.57 76.91,237.50 77.41,237.49 77.90,237.57 78.40,237.73 78.89,237.99 79.38,238.33 79.88,238.75 80.37,239.25 80.87,239.80 80.87,242.28 81.36,241.74 81.86,241.66 82.35,241.66 82.84,241.73 83.34,241.90 83.83,242.15 84.33,242.49 84.82,242.92 85.32,243.41 85.81,243.96 85.81,246.45 86.30,245.90 86.80,245.83 87.29,245.82 87.79,245.90 88.28,246.06 88.78,246.32 89.27,246.66 89.76,247.08 90.26,247.57 90.75,248.12 90.75,250.61 91.25,250.06 91.74,249.99 92.23,249.99 92.73,250.06 93.22,250.23 93.72,250.48 94.21,250.82 94.71,251.24 95.20,251.74 95.69,252.29 95.69,254.77 96.19,254.23 96.68,254.15 97.18,254.15 97.67,254.23 98.17,254.39 98.66,254.64 99.15,254.99 99.65,255.41 100.14,255.90 100.64,256.45 100.64,258.94 101.13,258.39 101.63,258.32 102.12,258.31 102.61,258.39 103.11,258.55 103.60,258.81 104.10,259.15 104.59,259.57 105.09,260.07 105.58,260.61 105.58,263.10 106.07,262.56 106.57,262.48 107.06,262.48 107.56,262.55 108.05,262.72 108.54,262.98 109.04,263.33 109.53,263.76 110.03,264.22 110.52,264.73 110.52,267.05 111.02,266.51 111.51,266.43 112.00,266.43 112.50,266.50 112.99,266.64 113.49,266.87 113.98,267.18 114.48,267.57 114.97,268.01 115.46,268.51 115.46,270.77 115.96,270.27 116.45,270.20 116.95,270.20 117.44,270.27 117.94,270.42 118.43,270.65 118.92,270.96 119.42,271.34 119.91,271.79 120.41,272.29 120.41,274.54 120.90,274.05 121.40,273.98 121.89,273.97 122.38,274.04 122.88,274.19 123.37,274.42 123.87,274.73 124.36,275.12 124.86,275.56 125.35,276.06 125.35,278.32 125.84,277.82 126.34,277.75 126.83,277.75 127.33,277.82 127.82,277.97 128.31,278.20 128.81,278.51 129.30,278.89 129.80,279.34 130.29,279.84 130.29,282.09 130.79,281.59 131.28,281.53 131.77,281.52 132.27,281.59 132.76,281.74 133.26,281.97 133.75,282.28 134.25,282.66 134.74,283.11 135.23,283.61 135.23,285.86 135.73,285.37 136.22,285.30 136.72,285.30 137.21,285.37 137.71,285.52 138.20,285.75 138.69,286.06 139.19,286.44 139.68,286.89 140.18,287.38 140.18,289.64 140.67,289.14 141.17,289.08 141.66,289.07 142.15,289.14 142.65,289.29 143.14,289.52 143.64,289.83 144.13,290.21 144.62,290.66 145.12,291.16 145.12,293.41 145.61,292.92 146.11,292.85 146.60,292.85 147.10,292.91 147.59,293.06 148.08,293.29 148.58,293.60 149.07,293.99 149.57,294.43 150.06,294.93 150.06,297.21 150.56,296.71 151.05,296.64 151.54,296.65 152.04,296.74 152.53,296.91 153.03,297.16 153.52,297.50 154.02,297.91 154.51,298.39 155.00,298.93 155.00,301.31 155.50,300.80 155.99,300.73 156.49,300.74 156.98,300.82 157.48,300.99 157.97,301.24 158.46,301.58 158.96,301.99 159.45,302.47 159.95,303.01 159.95,305.39 160.44,304.88 160.94,304.81 161.43,304.82 161.92,304.90 162.42,305.07 162.91,305.32 163.41,305.66 163.90,306.07 164.39,306.55 164.89,307.09 164.89,309.47 165.38,308.96 165.88,308.89 166.37,308.90 166.87,308.98 167.36,309.15 167.85,309.40 168.35,309.74 168.84,310.15 169.34,310.63 169.83,311.17 169.83,313.55 170.33,313.04 170.82,312.97 171.31,312.98 171.81,313.06 172.30,313.23 172.80,313.48 173.29,313.82 173.79,314.23 174.28,314.71 174.77,315.25 174.77,317.63 175.27,317.12 175.76,317.05 176.26,317.06 176.75,317.14 177.25,317.31 177.74,317.56 178.23,317.90 178.73,318.31 179.22,318.79 179.72,319.33 179.72,321.71 180.21,321.20 180.70,321.13 181.20,321.14 181.69,321.22 182.19,321.39 182.68,321.64 183.18,321.98 183.67,322.39 184.16,322.87 184.66,323.41 184.66,325.79 185.15,325.28 185.65,325.21 186.14,325.22 186.64,325.30 187.13,325.47 187.62,325.72 188.12,326.06 188.61,326.47 189.11,326.95 189.60,327.49 189.60,329.87 190.10,329.36 190.59,329.29 191.08,329.30 191.58,329.38 192.07,329.54 192.57,329.78 193.06,330.14 193.56,330.58 194.05,331.09 194.54,331.66 194.54,334.22 195.04,333.67 195.53,333.61 196.03,333.61 196.52,333.70 197.02,333.88 197.51,334.15" stroke="#ff0000" stroke-width="1.2"/>
</g>
<g fill="none" stroke-linejoin="round">
<polyline points="29.30,374.50 29.30,376.02 29.78,375.90 30.27,375.83 30.75,375.83 31.24,375.89 31.72,376.04 32.20,376.26 32.69,376.57 33.17,376.94 33.66,377.38 34.14,377.87 34.14,379.72 34.62,379.61 35.11,379.54 35.59,379.53 36.08,379.60 36.56,379.74 37.04,379.97 37.53,380.27 38.01,380.65 38.49,381.09 38.98,381.58 38.98,383.43 39.46,383.31 39.95,383.24 40.43,383.24 40.91,383.30 41.40,383.45 41.88,383.67 42.37,383.98 42.85,384.35 43.33,384.79 43.82,385.28 43.82,387.14 44.30,387.02 44.79,386.95 45.27,386.94 45.75,387.01 46.24,387.15 46.72,387.38 47.21,387.68 47.69,388.06 48.17,388.50 48.66,388.99 48.66,390.84 49.14,390.72 49.63,390.65 50.11,390.65 50.59,390.71 51.08,390.86 51.56,391.08 52.04,391.39 52.53,391.76 53.01,392.20 53.50,392.69 53.50,394.55 53.98,394.43 54.46,394.36 54.95,394.35 55.43,394.42 55.92,394.56 56.40,394.79 56.88,395.09 57.37,395.47 57.85,395.91 58.34,396.40 58.34,398.25 58.82,398.13 59.30,398.06 59.79,398.06 60.27,398.12 60.76,398.27 61.24,398.50 61.72,398.80 62.21,399.18 62.69,399.61 63.18,400.10 63.18,401.96 63.66,401.84 64.14,401.77 64.63,401.76 65.11,401.83 65.59,401.97 66.08,402.20 66.56,402.50 67.05,402.88 67.53,403.32 68.01,403.81 68.01,405.66 68.50,405.55 68.98,405.49 69.47,405.47 69.95,405.53 70.43,405.69 70.92,405.93 71.40,406.26 71.89,406.65 72.37,407.12 72.85,407.65 72.85,409.63 73.34,409.50 73.82,409.43 74.31,409.42 74.79,409.49 75.27,409.65 75.76,409.89 76.24,410.21 76.73,410.62 77.21,411.09 77.69,411.61 77.69,413.59 78.18,413.47 78.66,413.39 79.15,413.39 79.63,413.46 80.11,413.61 80.60,413.85 81.08,414.18 81.56,414.58 82.05,415.05 82.53,415.58 82.53,417.56 83.02,417.43 83.50,417.36 83.98,417.35 84.47,417.42 84.95,417.58 85.44,417.82 85.92,418.14 86.40,418.55 86.89,419.02 87.37,419.54 87.37,421.52 87.86,421.40 88.34,421.32 88.82,421.32 89.31,421.39 89.79,421.54 90.28,421.78 90.76,422.11 91.24,422.51 91.73,422.98 92.21,423.51 92.21,425.49 92.70,425.36 93.18,425.29 93.66,425.28 94.15,425.35 94.63,425.51 95.11,425.75 95.60,426.07 96.08,426.48 96.57,426.95 97.05,427.47 97.05,429.45 97.53,429.33 98.02,429.25 98.50,429.25 98.99,429.32 99.47,429.47 99.95,429.71 100.44,430.04 100.92,430.44 101.41,430.91 101.89,431.44 101.89,433.42 102.37,433.29 102.86,433.22 103.34,433.21 103.83,433.28 104.31,433.44 104.79,433.68 105.28,434.00 105.76,434.41 106.25,434.88 106.73,435.40 106.73,437.38 107.21,437.26 107.70,437.18 108.18,437.18 108.67,437.25 109.15,437.40 109.63,437.64 110.12,437.97 110.60,438.37 111.08,438.84 111.57,439.37 111.57,441.35 112.05,441.22 112.54,441.15 113.02,441.14 113.50,441.21 113.99,441.37 114.47,441.61 114.96,441.94 115.44,442.34 115.92,442.81 116.41,443.33 116.41,445.31 116.89,445.19 117.38,445.11 117.86,445.11 118.34,445.18 118.83,445.33 119.31,445.57 119.80,445.90 120.28,446.30 120.76,446.77 121.25,447.30 121.25,449.28 121.73,449.15 122.22,449.08 122.70,449.07 123.18,449.14 123.67,449.30 124.15,449.54 124.63,449.87 125.12,450.27 125.60,450.74 126.09,451.26 126.09,453.24 126.57,453.12 127.05,453.04 127.54,453.04 128.02,453.11 128.51,453.26 128.99,453.50 129.47,453.83 129.96,454.23 130.44,454.70 130.93,455.23 130.93,457.21 131.41,457.08 131.89,457.01 132.38,457.00 132.86,457.07 133.35,457.23 133.83,457.47 134.31,457.80 134.80,458.20 135.28,458.67 135.77,459.19 135.77,461.17 136.25,461.05 136.73,460.97 137.22,460.97 137.70,461.04 138.19,461.19 138.67,461.43 139.15,461.76 139.64,462.16 140.12,462.63 140.60,463.16 140.60,465.14 141.09,465.01 141.57,464.94 142.06,464.93 142.54,465.00 143.02,465.16 143.51,465.40 143.99,465.73 144.48,466.13 144.96,466.60 145.44,467.12 145.44,469.10 145.93,468.98 146.41,468.90 146.90,468.90 147.38,468.97 147.86,469.12 148.35,469.36 148.83,469.69 149.32,470.09 149.80,470.57 150.28,471.09 150.28,473.03 150.77,472.91 151.25,472.84 151.74,472.82 152.22,472.88 152.70,473.02 153.19,473.24 153.67,473.54 154.15,473.91 154.64,474.34 155.12,474.82 155.12,476.64 155.61,476.52 156.09,476.46 156.57,476.45 157.06,476.51 157.54,476.66 158.03,476.88 158.51,477.18 158.99,477.55 159.48,477.98 159.96,478.46 159.96,480.27 160.45,480.16 160.93,480.09 161.41,480.09 161.90,480.15 162.38,480.29 162.87,480.51 163.35,480.81 163.83,481.18 164.32,481.61 164.80,482.09 164.80,483.91 165.29,483.79 165.77,483.73 166.25,483.72 166.74,483.79 167.22,483.93 167.70,484.15 168.19,484.45 168.67,484.82 169.16,485.25 169.64,485.73 169.64,487.55 170.12,487.43 170.61,487.36 171.09,487.36 171.58,487.42 172.06,487.57 172.54,487.79 173.03,488.08 173.51,488.45 174.00,488.88 174.48,489.37 174.48,491.18 174.96,491.07 175.45,491.00 175.93,490.99 176.42,491.06 176.90,491.20 177.38,491.42 177.87,491.72 178.35,492.09 178.84,492.52 179.32,493.00 179.32,494.82 179.80,494.70 180.29,494.64 180.77,494.63 181.26,494.70 181.74,494.84 182.22,495.06 182.71,495.36 183.19,495.73 183.67,496.16 184.16,496.64 184.16,498.46 184.64,498.34 185.13,498.27 185.61,498.27 186.09,498.33 186.58,498.47 187.06,498.69 187.55,498.99 188.03,499.36 188.51,499.79 189.00,500.27 189.00,502.09 189.48,501.97 189.97,501.91 190.45,501.90 190.93,501.97 191.42,502.11 191.90,502.34 192.39,502.63" stroke="#0000ff" stroke-width="1.3"/>
<polyline points="29.30,374.94 29.30,376.46 29.78,376.33 30.27,376.25 30.75,376.24 31.24,376.30 31.72,376.44 32.20,376.66 32.69,376.96 33.17,377.32 33.66,377.76 34.14,378.24 34.14,380.09 34.62,379.97 35.11,379.89 35.59,379.88 36.08,379.94 36.56,380.08 37.04,380.29 37.53,380.59 38.01,380.96 38.49,381.39 38.98,381.88 38.98,383.73 39.46,383.60 39.95,383.53 40.43,383.51 40.91,383.57 41.40,383.71 41.88,383.93 42.37,384.23 42.85,384.60 43.33,385.03 43.82,385.51 43.82,387.36 44.30,387.24 44.79,387.16 45.27,387.15 45.75,387.21 46.24,387.35 46.72,387.57 47.21,387.86 47.69,388.23 48.17,388.66 48.66,389.15 48.66,391.00 49.14,390.87 49.63,390.80 50.11,390.77 50.59,390.81 51.08,390.93 51.56,391.13 52.04,391.41 52.53,391.77 53.01,392.18 53.50,392.65 53.50,394.50 53.98,394.35 54.46,394.26 54.95,394.23 55.43,394.27 55.92,394.39 56.40,394.60 56.88,394.88 57.37,395.23 57.85,395.64 58.34,396.11 58.34,397.96 58.82,397.82 59.30,397.72 59.79,397.69 60.27,397.74 60.76,397.86 61.24,398.06 61.72,398.34 62.21,398.69 62.69,399.11 63.18,399.57 63.18,401.42 63.66,401.28 64.14,401.19 64.63,401.16 65.11,401.20 65.59,401.32 66.08,401.52 66.56,401.80 67.05,402.15 67.53,402.57 68.01,403.03 68.01,404.89 68.50,404.75 68.98,404.66 69.47,404.63 69.95,404.66 70.43,404.82 70.92,405.06 71.40,405.38 71.89,405.78 72.37,406.24 72.85,406.77 72.85,408.75 73.34,408.62 73.82,408.55 74.31,408.54 74.79,408.61 75.27,408.77 75.76,409.01 76.24,409.33 76.73,409.73 77.21,410.20 77.69,410.72 77.69,412.71 78.18,412.58 78.66,412.50 79.15,412.50 79.63,412.57 80.11,412.72 80.60,412.96 81.08,413.29 81.56,413.69 82.05,414.16 82.53,414.68 82.53,416.66 83.02,416.53 83.50,416.46 83.98,416.45 84.47,416.52 84.95,416.68 85.44,416.92 85.92,417.24 86.40,417.65 86.89,418.11 87.37,418.64 87.37,420.62 87.86,420.49 88.34,420.42 88.82,420.41 89.31,420.48 89.79,420.63 90.28,420.88 90.76,421.20 91.24,421.60 91.73,422.07 92.21,422.59 92.21,424.58 92.70,424.45 93.18,424.37 93.66,424.37 94.15,424.44 94.63,424.59 95.11,424.83 95.60,425.16 96.08,425.56 96.57,426.03 97.05,426.55 97.05,428.53 97.53,428.40 98.02,428.33 98.50,428.32 98.99,428.39 99.47,428.55 99.95,428.79 100.44,429.11 100.92,429.51 101.41,429.98 101.89,430.51 101.89,432.49 102.37,432.36 102.86,432.29 103.34,432.28 103.83,432.35 104.31,432.50 104.79,432.74 105.28,433.07 105.76,433.47 106.25,433.94 106.73,434.46 106.73,436.44 107.21,436.32 107.70,436.24 108.18,436.24 108.67,436.31 109.15,436.46 109.63,436.70 110.12,437.03 110.60,437.43 111.08,437.90 111.57,438.42 111.57,440.40 112.05,440.27 112.54,440.20 113.02,440.19 113.50,440.26 113.99,440.42 114.47,440.66 114.96,440.98 115.44,441.38 115.92,441.85 116.41,442.37 116.41,444.36 116.89,444.23 117.38,444.16 117.86,444.15 118.34,444.22 118.83,444.37 119.31,444.61 119.80,444.94 120.28,445.34 120.76,445.81 121.25,446.33 121.25,448.31 121.73,448.19 122.22,448.11 122.70,448.10 123.18,448.18 123.67,448.33 124.15,448.57 124.63,448.89 125.12,449.30 125.60,449.76 126.09,450.29 126.09,452.27 126.57,452.14 127.05,452.07 127.54,452.06 128.02,452.13 128.51,452.29 128.99,452.53 129.47,452.85 129.96,453.25 130.44,453.72 130.93,454.24 130.93,456.23 131.41,456.10 131.89,456.02 132.38,456.02 132.86,456.09 133.35,456.24 133.83,456.48 134.31,456.81 134.80,457.21 135.28,457.68 135.77,458.20 135.77,460.18 136.25,460.05 136.73,459.98 137.22,459.97 137.70,460.04 138.19,460.20 138.67,460.44 139.15,460.76 139.64,461.17 140.12,461.63 140.60,462.16 140.60,464.14 141.09,464.01 141.57,463.94 142.06,463.93 142.54,464.00 143.02,464.15 143.51,464.40 143.99,464.72 144.48,465.12 144.96,465.59 145.44,466.11 145.44,468.10 145.93,467.97 146.41,467.89 146.90,467.89 147.38,467.96 147.86,468.11 148.35,468.35 148.83,468.68 149.32,469.08 149.80,469.55 150.28,470.08 150.28,472.02 150.77,471.89 151.25,471.82 151.74,471.79 152.22,471.84 152.70,471.97 153.19,472.19 153.67,472.48 154.15,472.84 154.64,473.26 155.12,473.74 155.12,475.55 155.61,475.43 156.09,475.35 156.57,475.34 157.06,475.40 157.54,475.53 158.03,475.74 158.51,476.03 158.99,476.39 159.48,476.81 159.96,477.29 159.96,479.10 160.45,478.98 160.93,478.90 161.41,478.89 161.90,478.95 162.38,479.08 162.87,479.29 163.35,479.58 163.83,479.94 164.32,480.37 164.80,480.84 164.80,482.66 165.29,482.53 165.77,482.46 166.25,482.44 166.74,482.50 167.22,482.63 167.70,482.84 168.19,483.13 168.67,483.49 169.16,483.92 169.64,484.39 169.64,486.21 170.12,486.08 170.61,486.01 171.09,485.99 171.58,486.05 172.06,486.18 172.54,486.40 173.03,486.69 173.51,487.05 174.00,487.47 174.48,487.94 174.48,489.76 174.96,489.63 175.45,489.56 175.93,489.54 176.42,489.60 176.90,489.73 177.38,489.95 177.87,490.24 178.35,490.60 178.84,491.02 179.32,491.49 179.32,493.31 179.80,493.18 180.29,493.11 180.77,493.09 181.26,493.15 181.74,493.28 182.22,493.50 182.71,493.79 183.19,494.15 183.67,494.57 184.16,495.04 184.16,496.86 184.64,496.74 185.13,496.66 185.61,496.65 186.09,496.70 186.58,496.84 187.06,497.05 187.55,497.34 188.03,497.70 188.51,498.12 189.00,498.59 189.00,500.41 189.48,500.29 189.97,500.21 190.45,500.20 190.93,500.25 191.42,500.39 191.90,500.61 192.39,500.89" stroke="#00ff00" stroke-width="1.25"/>
<polyline points="29.30,381.77 29.30,375.37 29.30,377.26 29.78,376.77 30.27,376.70 30.75,376.70 31.24,376.77 31.72,376.91 32.20,377.14 32.69,377.44 33.17,377.82 33.66,378.26 34.14,378.74 34.14,380.97 34.62,380.48 35.11,380.41 35.59,380.40 36.08,380.47 36.56,380.62 37.04,380.84 37.53,381.15 38.01,381.52 38.49,381.96 38.98,382.45 38.98,384.67 39.46,384.18 39.95,384.12 40.43,384.11 40.91,384.18 41.40,384.32 41.88,384.55 42.37,384.85 42.85,385.23 43.33,385.67 43.82,386.16 43.82,388.38 44.30,387.89 44.79,387.82 45.27,387.82 45.75,387.88 46.24,388.03 46.72,388.25 47.21,388.56 47.69,388.93 48.17,389.37 48.66,389.86 48.66,392.08 49.14,391.59 49.63,391.53 50.11,391.52 50.59,391.59 51.08,391.73 51.56,391.96 52.04,392.26 52.53,392.64 53.01,393.08 53.50,393.57 53.50,395.79 53.98,395.30 54.46,395.23 54.95,395.23 55.43,395.29 55.92,395.44 56.40,395.66 56.88,395.97 57.37,396.34 57.85,396.78 58.34,397.27 58.34,399.49 58.82,399.01 59.30,398.94 59.79,398.93 60.27,399.00 60.76,399.14 61.24,399.37 61.72,399.67 62.21,400.05 62.69,400.49 63.18,400.98 63.18,403.20 63.66,402.71 64.14,402.64 64.63,402.64 65.11,402.70 65.59,402.85 66.08,403.07 66.56,403.38 67.05,403.75 67.53,404.19 68.01,404.68 68.01,406.91 68.50,406.43 68.98,406.36 69.47,406.35 69.95,406.41 70.43,406.57 70.92,406.81 71.40,407.14 71.89,407.54 72.37,408.01 72.85,408.53 72.85,410.91 73.34,410.39 73.82,410.32 74.31,410.32 74.79,410.39 75.27,410.55 75.76,410.79 76.24,411.12 76.73,411.53 77.21,412.00 77.69,412.53 77.69,414.90 78.18,414.38 78.66,414.31 79.15,414.31 79.63,414.38 80.11,414.54 80.60,414.78 81.08,415.11 81.56,415.52 82.05,415.99 82.53,416.52 82.53,418.90 83.02,418.37 83.50,418.30 83.98,418.30 84.47,418.37 84.95,418.53 85.44,418.78 85.92,419.10 86.40,419.51 86.89,419.98 87.37,420.51 87.37,422.89 87.86,422.37 88.34,422.29 88.82,422.29 89.31,422.36 89.79,422.52 90.28,422.77 90.76,423.09 91.24,423.50 91.73,423.97 92.21,424.50 92.21,426.88 92.70,426.36 93.18,426.29 93.66,426.28 94.15,426.36 94.63,426.51 95.11,426.76 95.60,427.09 96.08,427.49 96.57,427.96 97.05,428.49 97.05,430.87 97.53,430.35 98.02,430.28 98.50,430.27 98.99,430.35 99.47,430.50 99.95,430.75 100.44,431.08 100.92,431.48 101.41,431.95 101.89,432.48 101.89,434.86 102.37,434.34 102.86,434.27 103.34,434.26 103.83,434.34 104.31,434.50 104.79,434.74 105.28,435.07 105.76,435.47 106.25,435.94 106.73,436.47 106.73,438.85 107.21,438.33 107.70,438.26 108.18,438.26 108.67,438.33 109.15,438.49 109.63,438.73 110.12,439.06 110.60,439.46 111.08,439.94 111.57,440.46 111.57,442.84 112.05,442.32 112.54,442.25 113.02,442.25 113.50,442.32 113.99,442.48 114.47,442.72 114.96,443.05 115.44,443.45 115.92,443.93 116.41,444.45 116.41,446.83 116.89,446.31 117.38,446.24 117.86,446.24 118.34,446.31 118.83,446.47 119.31,446.71 119.80,447.04 120.28,447.45 120.76,447.92 121.25,448.44 121.25,450.82 121.73,450.30 122.22,450.23 122.70,450.23 123.18,450.30 123.67,450.46 124.15,450.70 124.63,451.03 125.12,451.44 125.60,451.91 126.09,452.44 126.09,454.81 126.57,454.29 127.05,454.22 127.54,454.22 128.02,454.29 128.51,454.45 128.99,454.69 129.47,455.02 129.96,455.43 130.44,455.90 130.93,456.43 130.93,458.81 131.41,458.28 131.89,458.21 132.38,458.21 132.86,458.28 133.35,458.44 133.83,458.69 134.31,459.01 134.80,459.42 135.28,459.89 135.77,460.42 135.77,462.80 136.25,462.28 136.73,462.20 137.22,462.20 137.70,462.27 138.19,462.43 138.67,462.68 139.15,463.00 139.64,463.41 140.12,463.88 140.60,464.41 140.60,466.79 141.09,466.27 141.57,466.20 142.06,466.19 142.54,466.27 143.02,466.42 143.51,466.67 143.99,467.00 144.48,467.40 144.96,467.87 145.44,468.40 145.44,470.78 145.93,470.26 146.41,470.19 146.90,470.18 147.38,470.26 147.86,470.41 148.35,470.66 148.83,470.99 149.32,471.39 149.80,471.87 150.28,472.40 150.28,474.73 150.77,474.21 151.25,474.15 151.74,474.14 152.22,474.21 152.70,474.36 153.19,474.60 153.67,474.91 154.15,475.29 154.64,475.73 155.12,476.22 155.12,478.41 155.61,477.94 156.09,477.88 156.57,477.89 157.06,477.97 157.54,478.12 158.03,478.35 158.51,478.66 158.99,479.04 159.48,479.49 159.96,479.98 159.96,482.16 160.45,481.69 160.93,481.64 161.41,481.64 161.90,481.72 162.38,481.87 162.87,482.11 163.35,482.42 163.83,482.80 164.32,483.24 164.80,483.73 164.80,485.92 165.29,485.45 165.77,485.39 166.25,485.40 166.74,485.48 167.22,485.63 167.70,485.86 168.19,486.17 168.67,486.55 169.16,487.00 169.64,487.49 169.64,489.67 170.12,489.20 170.61,489.15 171.09,489.15 171.58,489.23 172.06,489.38 172.54,489.62 173.03,489.93 173.51,490.31 174.00,490.75 174.48,491.24 174.48,493.43 174.96,492.96 175.45,492.90 175.93,492.91 176.42,492.99 176.90,493.14 177.38,493.37 177.87,493.68 178.35,494.06 178.84,494.51 179.32,495.00 179.32,497.18 179.80,496.71 180.29,496.66 180.77,496.66 181.26,496.74 181.74,496.89 182.22,497.13 182.71,497.44 183.19,497.82 183.67,498.26 184.16,498.75 184.16,500.94 184.64,500.47 185.13,500.41 185.61,500.42 186.09,500.49 186.58,500.65 187.06,500.88 187.55,501.19 188.03,501.57 188.51,502.02 189.00,502.51 189.00,504.69 189.48,504.22 189.97,504.17 190.45,504.17 190.93,504.25 191.42,504.41 191.90,504.65 192.39,504.95" stroke="#ff0000" stroke-width="1.2"/>
</g>
<g fill="none" stroke-linejoin="round">
<polyline points="242.10,33.00 242.10,113.90 244.20,112.50 245.60,109.70 246.60,105.30 248.40,113.90 250.50,117.30 254.60,124.00 256.90,128.10 259.80,131.00 261.50,131.00 263.90,135.00 266.20,136.70 269.10,136.70 270.80,138.50 273.10,137.30 274.80,139.10 277.10,137.90 279.40,139.90 281.20,138.50 283.50,140.60 285.80,139.10 288.10,139.40 290.40,136.70 292.70,136.20 294.50,134.40 296.20,133.90 297.90,132.70 300.00,130.40 301.60,132.50 304.60,130.40 307.50,133.30 309.70,131.80 312.60,132.50 314.80,128.90 317.00,126.70 319.10,119.50 322.00,117.30 323.80,113.60 325.70,113.60 327.90,112.90 330.20,116.40 333.10,120.40 335.40,125.60 337.70,127.90 340.60,130.80 343.50,134.30 346.40,136.00 349.20,137.70 351.00,137.70 353.30,137.10 355.60,137.10 357.30,135.40 360.20,134.30 362.00,132.00 364.30,130.20 365.40,129.10 366.60,126.20 369.50,125.60 371.40,122.00 374.40,123.80 375.60,120.80 378.60,123.40 380.40,120.60 382.80,123.80 385.20,121.40 387.60,125.00 390.00,122.00 392.40,125.60 394.80,123.40 397.20,126.80 399.60,125.00 402.60,128.60 404.40,127.00 408.00,131.60" stroke="#00ff00" stroke-width="1.2"/>
<polyline points="242.60,31.40 242.60,115.20 243.50,111.10 244.70,113.90 245.80,109.00 247.00,111.80 260.20,144.30 262.20,142.30 264.00,143.00 265.70,134.60 267.80,134.00 270.60,126.30 272.60,127.70 275.10,120.10 277.50,122.20 279.60,116.60 281.60,119.40 284.40,114.50 286.50,116.60 289.30,109.70 291.30,112.50 294.10,105.50 296.40,109.00 299.00,102.00 301.60,109.30 303.80,104.60 306.70,112.20 308.90,107.80 311.60,109.30 313.30,102.70 316.20,102.30 318.40,94.00 321.30,96.20 323.20,88.20 325.70,94.70 327.90,90.40 328.50,95.00 331.40,100.80 332.50,99.60 334.20,102.50 336.50,106.00 337.70,106.50 340.60,112.90 342.30,113.50 345.20,116.40 346.40,115.80 348.10,117.50 349.80,118.70 351.60,115.80 353.90,117.50 355.00,118.10 356.80,113.50 358.50,114.60 359.60,114.60 361.40,108.30 363.10,109.40 364.30,109.40 366.00,101.90 367.10,104.20 369.00,106.00 370.80,97.80 373.80,104.40 375.60,95.40 378.60,103.20 380.40,93.00 383.40,102.00 385.20,92.40 388.20,102.60 390.00,90.00 393.00,100.20 394.80,90.60 397.80,99.00 399.60,89.40 402.60,97.80 404.40,90.00 407.40,96.00 409.20,92.40" stroke="#ff0000" stroke-width="1.15"/>
</g>
<g fill="none" stroke-linejoin="round">
<polyline points="236.80,294.60 237.10,294.90 238.90,297.40 241.40,288.40 242.50,292.70 244.70,300.70 246.20,302.20 248.00,305.80 250.50,308.70 252.30,310.90 255.20,315.20 256.70,314.50 259.20,318.90 260.70,321.80 261.50,320.80 263.90,323.10 265.60,323.70 267.30,322.50 269.60,324.80 271.90,324.20 274.20,326.60 276.60,325.60 279.40,327.70 281.80,326.30 284.10,327.10 286.40,324.80 288.70,323.70 289.80,324.00 290.00,323.80 291.80,320.60 294.20,321.50 296.50,317.80 299.20,319.20 301.50,315.50 304.30,317.30 306.60,314.40 309.90,314.10 312.20,309.50 314.50,307.60 316.80,300.70 317.70,299.80 319.60,298.90 321.90,294.70 323.30,295.20 325.60,294.70 327.40,292.40 330.00,293.30 331.50,291.40 334.40,292.10 336.50,290.60 339.40,291.40 342.20,289.90 345.10,290.60 347.30,289.90 350.10,291.40 353.00,289.90 355.80,291.80 358.70,290.40 361.60,291.40 362.60,290.60 365.30,292.90 368.10,291.60 370.90,294.00 372.70,292.50 375.50,296.20 378.30,297.10 380.10,300.30 382.90,299.50 384.70,303.20 387.10,302.10 389.30,305.40 392.10,304.50 394.00,308.20 396.70,307.60 399.50,310.60 402.30,310.00 405.00,313.70 407.40,312.80 410.60,314.70" stroke="#00ff00" stroke-width="1.2"/>
<polyline points="236.80,215.30 236.80,287.70 237.50,288.40 238.50,294.20 240.70,290.90 243.30,298.50 245.40,305.80 247.60,310.90 250.50,316.00 253.40,321.00 255.50,326.70 256.90,325.30 259.60,325.70 261.00,317.00 263.10,318.40 266.60,310.10 268.60,312.20 272.10,304.50 274.20,307.30 277.00,301.80 279.00,305.20 281.80,299.70 283.90,302.50 286.70,294.80 289.10,298.30 290.00,298.90 291.40,291.50 294.20,296.50 296.50,288.20 299.20,294.70 301.50,287.30 304.30,292.90 306.60,286.80 309.90,289.20 311.50,281.30 314.30,282.00 316.90,272.70 319.30,276.30 321.80,269.40 324.10,272.70 326.50,266.60 329.40,272.30 331.50,267.00 334.40,270.90 336.50,267.40 339.40,271.70 341.50,268.40 344.40,273.20 346.50,269.20 349.40,273.70 351.50,269.90 354.40,274.20 356.60,269.90 359.40,274.60 362.00,270.80 364.40,275.00 366.60,268.40 369.80,275.00 371.60,265.40 374.60,276.80 376.40,267.80 380.00,279.80 381.40,270.80 384.80,282.20 386.60,271.40 389.90,282.80 391.40,269.40 395.00,282.20 396.60,272.00 399.80,282.20 401.60,273.20 405.00,280.40 406.70,270.20 410.00,275.60 411.50,267.80" stroke="#ff0000" stroke-width="1.15"/>
</g>
<g fill="none" stroke-linejoin="round">
<polyline points="236.70,394.00 236.70,474.00 237.50,474.90 238.10,476.20 239.30,476.60 241.40,467.00 243.10,474.50 245.20,482.10 246.50,482.50 248.50,485.40 250.60,489.60 252.70,491.30 254.80,496.30 256.10,497.10 257.70,498.80 260.20,503.00 261.90,501.30 265.00,507.30 267.30,504.80 270.80,508.50 273.70,505.20 277.10,507.90 279.40,505.20 281.80,506.20 284.60,504.10 286.70,504.80 288.10,501.50 289.80,502.50 292.70,499.20 295.00,500.60 297.30,498.30 300.00,498.30 302.40,494.20 304.60,492.00 306.70,485.50 308.90,481.80 311.80,475.30 315.00,475.80 316.70,474.10 318.50,477.00 321.40,484.50 323.10,489.70 325.40,494.80 330.00,496.60 332.30,495.40 335.20,494.30 336.90,490.80 339.80,489.10 342.10,486.80 345.00,486.80 346.80,485.00 349.10,484.50 352.00,481.60 354.80,482.70 356.80,480.40 359.50,483.30 361.20,482.10 363.50,484.50 365.00,485.60 368.10,487.60 370.90,490.70 372.70,488.50 375.50,493.10 377.30,491.80 380.10,495.90 382.00,494.00 384.70,499.20 387.10,497.70 390.30,503.30 392.10,502.30 395.80,507.90 398.60,505.10 400.40,507.90 402.30,501.40 405.00,506.00 406.30,504.20" stroke="#00ff00" stroke-width="1.2"/>
<polyline points="237.30,393.00 237.30,479.10 238.20,470.80 239.30,474.20 241.60,467.30 243.00,473.60 245.10,481.90 247.90,488.80 250.60,495.70 253.40,501.30 255.90,506.10 257.60,504.00 260.30,505.40 261.70,496.40 263.80,497.80 266.60,489.50 268.60,491.60 271.40,481.90 274.20,485.30 277.00,477.00 279.70,481.20 281.80,473.60 284.60,477.00 286.70,467.30 289.40,472.90 291.90,465.90 293.60,471.60 296.60,466.80 299.50,468.70 301.60,459.30 304.60,459.60 306.30,448.40 308.20,452.70 309.70,452.00 311.60,441.50 313.30,449.80 315.00,454.40 316.40,448.10 317.90,455.00 320.20,463.70 321.40,463.10 323.10,464.20 325.40,466.00 326.50,464.20 328.30,466.00 330.00,466.60 331.40,459.60 332.90,461.90 335.20,462.50 336.40,456.20 338.10,460.20 340.40,461.40 341.60,456.20 343.30,459.60 345.30,460.80 346.40,454.40 348.50,457.90 350.20,459.10 351.70,450.20 353.70,455.00 355.20,457.90 356.60,449.80 358.60,456.70 360.40,460.20 361.80,452.10 363.30,457.30 365.00,462.50 365.60,462.20 366.60,454.40 370.40,465.20 371.60,454.40 375.20,468.20 376.40,456.20 380.00,469.40 381.40,455.00 385.00,472.40 386.60,459.20 390.20,476.00 391.70,463.40 395.00,473.00 396.50,458.60 399.80,466.40 401.40,445.80 403.40,458.00 405.20,465.20 406.40,458.00" stroke="#ff0000" stroke-width="1.15"/>
</g>
<text x="27.00" y="163.00" text-anchor="middle" font-size="9.5">0</text>
<text x="68.62" y="163.00" text-anchor="middle" font-size="9.5">1</text>
<text x="110.24" y="163.00" text-anchor="middle" font-size="9.5">2</text>
<text x="151.87" y="163.00" text-anchor="middle" font-size="9.5">3</text>
<text x="193.49" y="163.00" text-anchor="middle" font-size="9.5">4</text>
<text x="26.40" y="156.90" text-anchor="end" font-size="9.5">0</text>
<text x="26.40" y="129.56" text-anchor="end" font-size="9.5">20</text>
<text x="26.40" y="100.02" text-anchor="end" font-size="9.5">40</text>
<text x="26.40" y="70.48" text-anchor="end" font-size="9.5">60</text>
<text x="26.40" y="40.94" text-anchor="end" font-size="9.5">80</text>
<text x="26.40" y="11.40" text-anchor="end" font-size="9.5">100</text>
<text x="242.10" y="168.45" text-anchor="middle" font-size="9.5">0</text>
<text x="282.54" y="168.45" text-anchor="middle" font-size="9.5">1</text>
<text x="322.99" y="168.45" text-anchor="middle" font-size="9.5">2</text>
<text x="363.43" y="168.45" text-anchor="middle" font-size="9.5">3</text>
<text x="403.88" y="168.45" text-anchor="middle" font-size="9.5">4</text>
<text x="241.90" y="162.00" text-anchor="end" font-size="9.5">-2</text>
<text x="241.90" y="126.93" text-anchor="end" font-size="9.5">0</text>
<text x="241.90" y="89.95" text-anchor="end" font-size="9.5">2</text>
<text x="241.90" y="52.97" text-anchor="end" font-size="9.5">4</text>
<text x="241.90" y="16.00" text-anchor="end" font-size="9.5">6</text>
<text x="26.50" y="353.05" text-anchor="middle" font-size="9.5">0</text>
<text x="68.03" y="353.05" text-anchor="middle" font-size="9.5">1</text>
<text x="109.57" y="353.05" text-anchor="middle" font-size="9.5">2</text>
<text x="151.10" y="353.05" text-anchor="middle" font-size="9.5">3</text>
<text x="192.63" y="353.05" text-anchor="middle" font-size="9.5">4</text>
<text x="25.90" y="347.30" text-anchor="end" font-size="9.5">0</text>
<text x="25.90" y="319.82" text-anchor="end" font-size="9.5">20</text>
<text x="25.90" y="290.04" text-anchor="end" font-size="9.5">40</text>
<text x="25.90" y="260.26" text-anchor="end" font-size="9.5">60</text>
<text x="25.90" y="230.48" text-anchor="end" font-size="9.5">80</text>
<text x="25.90" y="200.70" text-anchor="end" font-size="9.5">100</text>
<text x="236.30" y="351.90" text-anchor="middle" font-size="9.5">0</text>
<text x="278.70" y="351.90" text-anchor="middle" font-size="9.5">1</text>
<text x="321.10" y="351.90" text-anchor="middle" font-size="9.5">2</text>
<text x="363.50" y="351.90" text-anchor="middle" font-size="9.5">3</text>
<text x="405.90" y="351.90" text-anchor="middle" font-size="9.5">4</text>
<text x="236.10" y="346.20" text-anchor="end" font-size="9.5">-2</text>
<text x="236.10" y="310.88" text-anchor="end" font-size="9.5">0</text>
<text x="236.10" y="274.05" text-anchor="end" font-size="9.5">2</text>
<text x="236.10" y="237.22" text-anchor="end" font-size="9.5">4</text>
<text x="236.10" y="200.40" text-anchor="end" font-size="9.5">6</text>
<text x="29.30" y="528.70" text-anchor="middle" font-size="9.5">0</text>
<text x="69.97" y="528.70" text-anchor="middle" font-size="9.5">1</text>
<text x="110.63" y="528.70" text-anchor="middle" font-size="9.5">2</text>
<text x="151.30" y="528.70" text-anchor="middle" font-size="9.5">3</text>
<text x="191.97" y="528.70" text-anchor="middle" font-size="9.5">4</text>
<text x="28.70" y="522.20" text-anchor="end" font-size="9.5">0</text>
<text x="28.70" y="495.30" text-anchor="end" font-size="9.5">20</text>
<text x="28.70" y="466.20" text-anchor="end" font-size="9.5">40</text>
<text x="28.70" y="437.10" text-anchor="end" font-size="9.5">60</text>
<text x="28.70" y="408.00" text-anchor="end" font-size="9.5">80</text>
<text x="28.70" y="378.90" text-anchor="end" font-size="9.5">100</text>
<text x="236.50" y="530.50" text-anchor="middle" font-size="9.5">0</text>
<text x="278.88" y="530.50" text-anchor="middle" font-size="9.5">1</text>
<text x="321.26" y="530.50" text-anchor="middle" font-size="9.5">2</text>
<text x="363.63" y="530.50" text-anchor="middle" font-size="9.5">3</text>
<text x="406.01" y="530.50" text-anchor="middle" font-size="9.5">4</text>
<text x="236.30" y="524.40" text-anchor="end" font-size="9.5">-2</text>
<text x="236.30" y="489.40" text-anchor="end" font-size="9.5">0</text>
<text x="236.30" y="452.20" text-anchor="end" font-size="9.5">2</text>
<text x="236.30" y="415.00" text-anchor="end" font-size="9.5">4</text>
<text x="236.30" y="377.80" text-anchor="end" font-size="9.5">6</text>
<text x="122.30" y="174.60" text-anchor="middle" font-size="12.40" font-weight="bold">Time(s)</text>
<text transform="translate(11.10 81.00) rotate(-90)" text-anchor="middle" font-size="12.65" font-weight="bold">SOC(%)</text>
<text x="77.60" y="23.00" font-size="12.30" font-weight="bold">(c)</text>
<text x="334.30" y="180.20" text-anchor="middle" font-size="11.60" font-weight="bold">Time(s)</text>
<text transform="translate(231.60 86.60) rotate(-90)" text-anchor="middle" font-size="11.85" font-weight="bold">Error(%)</text>
<text x="287.60" y="29.40" font-size="12.30" font-weight="bold">(d)</text>
<text x="121.20" y="363.90" text-anchor="middle" font-size="11.70" font-weight="bold">Time(s)</text>
<text transform="translate(10.90 271.20) rotate(-90)" text-anchor="middle" font-size="11.90" font-weight="bold">SOC(%)</text>
<text x="75.30" y="214.90" font-size="12.20" font-weight="bold">(e)</text>
<text x="331.20" y="362.60" text-anchor="middle" font-size="11.40" font-weight="bold">Time(s)</text>
<text transform="translate(227.10 270.70) rotate(-90)" text-anchor="middle" font-size="11.80" font-weight="bold">Error(%)</text>
<text x="283.20" y="214.50" font-size="11.50" font-weight="bold">(f)</text>
<text x="122.30" y="541.70" text-anchor="middle" font-size="12.70" font-weight="bold">Time(s)</text>
<text transform="translate(12.90 448.00) rotate(-90)" text-anchor="middle" font-size="12.50" font-weight="bold">SOC(%)</text>
<text x="74.80" y="393.10" font-size="12.90" font-weight="bold">(g)</text>
<text x="331.10" y="540.60" text-anchor="middle" font-size="11.10" font-weight="bold">Time(s)</text>
<text transform="translate(226.80 447.80) rotate(-90)" text-anchor="middle" font-size="11.15" font-weight="bold">Error(%)</text>
<text x="283.90" y="390.60" font-size="11.20" font-weight="bold">(h)</text>
<text x="199.00" y="168.00" font-size="9.5" textLength="13.50" lengthAdjust="spacingAndGlyphs">×10</text>
<text x="215.80" y="162.60" text-anchor="end" font-size="6.4">4</text>
<text x="409.80" y="172.00" font-size="8.3" textLength="12.30" lengthAdjust="spacingAndGlyphs">×10</text>
<text x="425.60" y="167.60" text-anchor="end" font-size="6.4">4</text>
<text x="197.70" y="357.80" font-size="9.0" textLength="15.00" lengthAdjust="spacingAndGlyphs">×10</text>
<text x="215.10" y="352.00" text-anchor="end" font-size="6.4">4</text>
<text x="413.50" y="355.80" font-size="8.2" textLength="13.50" lengthAdjust="spacingAndGlyphs">×10</text>
<text x="429.00" y="349.20" text-anchor="end" font-size="6.4">4</text>
<text x="196.90" y="534.20" font-size="9.3" textLength="15.20" lengthAdjust="spacingAndGlyphs">×10</text>
<text x="215.20" y="528.40" text-anchor="end" font-size="6.4">4</text>
<text x="413.50" y="534.60" font-size="8.3" textLength="13.10" lengthAdjust="spacingAndGlyphs">×10</text>
<text x="428.60" y="529.20" text-anchor="end" font-size="6.4">4</text>
<rect x="126.40" y="9.30" width="85.80" height="32.30" fill="#fff" stroke="#7d7d7d" stroke-width="1.0"/>
<path d="M128.90 15.30H135.20" stroke="#0000ff" stroke-width="1.2"/>
<text x="136.70" y="18.50" font-size="10.00">Reference</text>
<path d="M128.90 25.20H135.20" stroke="#00ff00" stroke-width="1.2"/>
<text x="136.70" y="28.60" font-size="10.00">FFRLS-TLS-UKF</text>
<path d="M128.90 35.90H135.20" stroke="#ff0000" stroke-width="1.2"/>
<text x="136.70" y="39.30" font-size="10.00">UKF</text>
<rect x="126.40" y="200.50" width="84.30" height="30.10" fill="#fff" stroke="#7d7d7d" stroke-width="1.0"/>
<path d="M130.00 205.90H136.10" stroke="#0000ff" stroke-width="1.2"/>
<text x="138.10" y="209.50" font-size="9.50">Reference</text>
<path d="M130.00 215.60H136.10" stroke="#00ff00" stroke-width="1.2"/>
<text x="138.10" y="219.40" font-size="9.50">FFRLS-TLS-UKF</text>
<path d="M130.00 224.80H136.10" stroke="#ff0000" stroke-width="1.2"/>
<text x="138.10" y="228.60" font-size="9.50">UKF</text>
<rect x="121.90" y="378.50" width="88.40" height="27.40" fill="#fff" stroke="#7d7d7d" stroke-width="1.0"/>
<path d="M125.80 383.30H131.30" stroke="#0000ff" stroke-width="1.2"/>
<text x="133.80" y="387.10" font-size="10.20">Reference</text>
<path d="M125.80 392.30H131.30" stroke="#00ff00" stroke-width="1.2"/>
<text x="133.80" y="396.00" font-size="10.20">FFRLS-TLS-UKF</text>
<path d="M125.80 401.30H131.30" stroke="#ff0000" stroke-width="1.2"/>
<text x="133.80" y="404.80" font-size="10.20">UKF</text>
<rect x="336.90" y="20.50" width="79.80" height="22.10" fill="#fff" stroke="#7d7d7d" stroke-width="1.0"/>
<path d="M339.60 26.00H345.10" stroke="#00ff00" stroke-width="1.2"/>
<text x="346.50" y="29.50" font-size="9.30">FFRLS-TLS-UKF</text>
<path d="M339.60 37.80H345.10" stroke="#ff0000" stroke-width="1.2"/>
<text x="346.50" y="41.00" font-size="9.30">UKF</text>
<rect x="338.30" y="204.40" width="84.40" height="20.80" fill="#fff" stroke="#7d7d7d" stroke-width="1.0"/>
<path d="M341.60 209.50H347.70" stroke="#00ff00" stroke-width="1.2"/>
<text x="349.40" y="212.50" font-size="9.30">FFRLS-TLS-UKF</text>
<path d="M341.60 220.60H347.70" stroke="#ff0000" stroke-width="1.2"/>
<text x="349.40" y="224.00" font-size="9.30">UKF</text>
<rect x="343.20" y="382.40" width="79.50" height="22.70" fill="#fff" stroke="#7d7d7d" stroke-width="1.0"/>
<path d="M347.30 387.80H352.90" stroke="#00ff00" stroke-width="1.2"/>
<text x="354.20" y="391.90" font-size="9.00">FFRLS-TLS-UKF</text>
<path d="M347.30 399.00H352.90" stroke="#ff0000" stroke-width="1.2"/>
<text x="354.20" y="402.80" font-size="9.00">UKF</text>
</svg>
</body></html>
